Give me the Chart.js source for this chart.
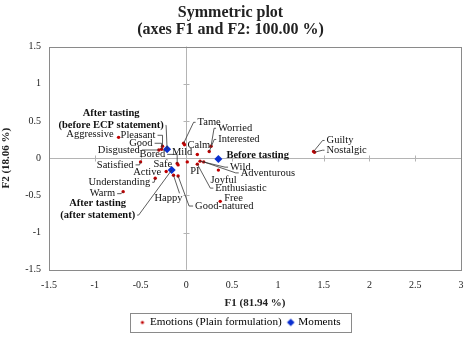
<!DOCTYPE html>
<html>
<head>
<meta charset="utf-8">
<script src="https://cdn.jsdelivr.net/npm/chart.js@4/dist/chart.umd.min.js"></script>
<style>
  html, body { margin: 0; padding: 0; background: #fff; }
  #wrap { width: 474px; height: 338px; }
</style>
</head>
<body>
<div id="wrap"><canvas id="c" width="474" height="338"></canvas></div>
<script>
// Correspondence analysis: emotion terms and tasting moments on F1/F2
const emotionNames = ['Aggressive', 'Pleasant', 'Good', 'Disgusted', 'Tame', 'Calm', 'Worried', 'Interested',
  'Mild', 'Bored', 'Safe', 'Satisfied', 'Active', 'Understanding', 'Warm', 'Happy', 'Good-natured', 'Free',
  'PI', 'Wild', 'Adventurous', 'Joyful', 'Enthusiastic', 'Guilty', 'Nostalgic'];
const emotionF1 = [-0.74, -0.26, -0.27, -0.30, -0.03, -0.02, 0.27, 0.25,
  0.12, -0.10, -0.09, -0.50, -0.22, -0.34, -0.69, -0.14, -0.09, 0.37,
  0.01, 0.15, 0.19, 0.35, 0.12, 1.39, 1.40];
const emotionF2 = [0.28, 0.16, 0.12, 0.11, 0.20, 0.18, 0.16, 0.09,
  0.05, -0.07, -0.09, -0.05, -0.18, -0.27, -0.45, -0.23, -0.24, -0.58,
  -0.05, -0.04, -0.05, -0.16, -0.08, 0.09, 0.08];

const momentNames = ['Before tasting', 'After tasting\n(before ECP statement)', 'After tasting\n(after statement)'];
const momentF1 = [0.35, -0.21, -0.16];
const momentF2 = [-0.01, 0.12, -0.16];

const axisTicks = [-1.5, -1, -0.5, 0, 0.5, 1, 1.5, 2, 2.5, 3];
const f2Ticks = [-1.5, -1, -0.5, 0, 0.5, 1, 1.5];

// Label placement: text offset from the point (px), alignment, optional leader corner offset
const labelPlacement = {
  'Aggressive': { dx: -5, dy: -3, align: 'right' },
  'Pleasant': { dx: -7, dy: -11, align: 'right', lead: [0, -11] },
  'Good': { dx: -9, dy: -6, align: 'right', lead: [0, -6] },
  'Disgusted': { dx: -19, dy: 0, align: 'right', lead: [-3, 0] },
  'Tame': { dx: 14, dy: -21, align: 'left', lead: [10, -21] },
  'Calm': { dx: 3, dy: 0, align: 'left' },
  'Worried': { dx: 7, dy: -18, align: 'left', lead: [3, -18] },
  'Interested': { dx: 9, dy: -12, align: 'left', lead: [5, -12] },
  'Mild': { dx: -5, dy: -2, align: 'right' },
  'Bored': { dx: -12, dy: -9, align: 'right', lead: [0, -9] },
  'Safe': { dx: -6, dy: -1, align: 'right' },
  'Satisfied': { dx: -7, dy: 3, align: 'right', lead: [-1, 3] },
  'Active': { dx: -5, dy: 1, align: 'right' },
  'Understanding': { dx: -5, dy: 4, align: 'right', lead: [-1, 4] },
  'Warm': { dx: -8, dy: 2, align: 'right', lead: [-2, 2] },
  'Happy': { dx: 9, dy: 23, align: 'right', lead: null, leadFrom: 'top' },
  'Good-natured': { dx: 17, dy: 30, align: 'left', lead: [11, 30] },
  'Free': { dx: 4, dy: -3, align: 'left' },
  'PI': { dx: 3, dy: 9, align: 'left' },
  'Wild': { dx: 30, dy: 6, align: 'left', lead: [25, 6] },
  'Adventurous': { dx: 37, dy: 11, align: 'left', lead: [32, 11] },
  'Joyful': { dx: -8, dy: 10, align: 'left' },
  'Enthusiastic': { dx: 18, dy: 24, align: 'left', lead: [13, 24] },
  'Guilty': { dx: 13, dy: -11, align: 'left', lead: [9, -11] },
  'Nostalgic': { dx: 12, dy: -2, align: 'left', lead: [8, -2] },
  'Before tasting': { dx: 8, dy: -4, align: 'left', bold: true },
  'After tasting\n(before ECP statement)': { dx: -56, dy: -36, align: 'center', bold: true, lineGap: 12, leadLine: 1, lead: [-1, -24] },
  'After tasting\n(after statement)': { dx: -74, dy: 33, align: 'center', bold: true, lineGap: 12, leadLine: 1, lead: [-33, 45] }
};

const SERIF = '"Liberation Serif", "DejaVu Serif", serif';
const RED = '#c00000';
const BLUE = '#0a2fd0';
const LEGEND_SHIFT = 10;

function toPoints(xs, ys) { return xs.map((x, i) => ({ x, y: ys[i] })); }

// small marker images for the legend
function markerCanvas(kind) {
  const c = document.createElement('canvas');
  c.width = 10; c.height = 10;
  const g = c.getContext('2d');
  if (kind === 'dot') {
    g.fillStyle = RED; g.beginPath(); g.arc(5, 5, 1.6, 0, Math.PI * 2); g.fill();
  } else {
    g.fillStyle = BLUE; g.beginPath(); g.moveTo(5, 1.2); g.lineTo(8.8, 5); g.lineTo(5, 8.8); g.lineTo(1.2, 5); g.closePath(); g.fill();
  }
  return c;
}

// frame, zero axes with small cross ticks, boxed legend
const framePlugin = {
  id: 'frame',
  afterUpdate(chart) {
    // nudge the legend row a little to the right
    const lg = chart.legend;
    if (lg && lg.legendHitBoxes) {
      lg.left += LEGEND_SHIFT; lg.right += LEGEND_SHIFT;
      lg.legendHitBoxes.forEach(h => { h.left += LEGEND_SHIFT; });
    }
  },
  beforeDatasetsDraw(chart) {
    const { ctx, chartArea: a, scales } = chart;
    const x0 = Math.round(scales.x.getPixelForValue(0)) + 0.5;
    const y0 = Math.round(scales.y.getPixelForValue(0)) + 0.5;
    ctx.save();
    ctx.strokeStyle = '#b4b4b4';
    ctx.lineWidth = 1;
    ctx.beginPath();
    ctx.moveTo(a.left, y0); ctx.lineTo(a.right, y0);
    ctx.moveTo(x0, a.top); ctx.lineTo(x0, a.bottom);
    scales.x.ticks.forEach(t => {
      const px = Math.round(scales.x.getPixelForValue(t.value)) + 0.5;
      ctx.moveTo(px, y0 - 3); ctx.lineTo(px, y0 + 3);
    });
    scales.y.ticks.forEach(t => {
      const py = Math.round(scales.y.getPixelForValue(t.value)) + 0.5;
      ctx.moveTo(x0 - 3, py); ctx.lineTo(x0 + 3, py);
    });
    ctx.stroke();
    ctx.strokeStyle = '#8a8a8a';
    ctx.strokeRect(Math.round(a.left) + 0.5, Math.round(a.top) + 0.5, Math.round(a.right - a.left), Math.round(a.bottom - a.top));
    ctx.restore();
  },
  afterDraw(chart) {
    const lg = chart.legend;
    if (!lg || !lg.legendHitBoxes || !lg.legendHitBoxes.length) return;
    const hb = lg.legendHitBoxes;
    const left = Math.min(...hb.map(h => h.left)) - 10;
    const right = Math.max(...hb.map(h => h.left + h.width)) + 11;
    const top = Math.min(...hb.map(h => h.top)) - 4;
    const bottom = Math.max(...hb.map(h => h.top + h.height)) + 4;
    const { ctx } = chart;
    ctx.save();
    ctx.strokeStyle = '#8a8a8a';
    ctx.lineWidth = 1;
    ctx.strokeRect(Math.round(left) + 0.5, Math.round(top) + 0.5, Math.round(right - left), Math.round(bottom - top));
    ctx.restore();
  }
};

// point labels with leader lines
const labelPlugin = {
  id: 'pointLabels',
  afterDatasetsDraw(chart) {
    const { ctx } = chart;
    ctx.save();
    ctx.textBaseline = 'middle';
    chart.data.datasets.forEach((ds, di) => {
      const meta = chart.getDatasetMeta(di);
      meta.data.forEach((el, i) => {
        const name = ds.names[i];
        const p = labelPlacement[name];
        if (!p) return;
        const lines = name.split('\n');
        const gap = p.lineGap || 11;
        ctx.font = (p.bold ? 'bold ' : '') + '10.5px ' + SERIF;
        ctx.fillStyle = '#111';
        ctx.textAlign = p.align;
        const tx = el.x + p.dx;
        let edge = null;
        lines.forEach((ln, k) => {
          const ty = el.y + p.dy + k * gap;
          ctx.fillText(ln, tx, ty);
          const w = ctx.measureText(ln).width;
          const k0 = p.leadLine !== undefined ? p.leadLine : 0;
          if (k === k0) {
            let left = p.align === 'left' ? tx : (p.align === 'right' ? tx - w : tx - w / 2);
            let right = left + w;
            if (p.leadFrom === 'top') edge = [right - 3, ty - 5];
            else if (p.align === 'left') edge = [left - 2, ty];
            else edge = [right + 2, ty];
          }
        });
        if (p.lead !== undefined) {
          ctx.strokeStyle = '#333';
          ctx.lineWidth = 0.8;
          ctx.beginPath();
          ctx.moveTo(edge[0], edge[1]);
          if (p.lead) ctx.lineTo(el.x + p.lead[0], el.y + p.lead[1]);
          ctx.lineTo(el.x, el.y);
          ctx.stroke();
        }
      });
    });
    ctx.restore();
  }
};

const fmt = v => String(v);

new Chart(document.getElementById('c'), {
  type: 'scatter',
  data: {
    datasets: [
      {
        label: 'Emotions (Plain formulation)',
        names: emotionNames,
        data: toPoints(emotionF1, emotionF2),
        pointStyle: 'circle',
        pointRadius: 1.7,
        backgroundColor: RED,
        borderColor: RED,
        borderWidth: 0
      },
      {
        label: 'Moments',
        names: momentNames,
        data: toPoints(momentF1, momentF2),
        pointStyle: 'rectRot',
        pointRadius: 4,
        backgroundColor: BLUE,
        borderColor: BLUE,
        borderWidth: 0
      }
    ]
  },
  options: {
    responsive: false,
    animation: false,
    devicePixelRatio: 1,
    layout: { padding: { left: 0, right: 13, top: 0, bottom: 0 } },
    plugins: {
      title: {
        display: true,
        text: ['Symmetric plot', '(axes F1 and F2: 100.00 %)'],
        color: '#222',
        font: { family: SERIF, size: 16, weight: 'bold', lineHeight: 1.08 },
        padding: { top: 4, bottom: 8 }
      },
      legend: {
        position: 'bottom',
        labels: {
          color: '#222',
          font: { family: SERIF, size: 11.2 },
          usePointStyle: true,
          boxWidth: 4,
          boxHeight: 8,
          padding: 7,
          generateLabels(chart) {
            return chart.data.datasets.map((ds, i) => ({
              text: ds.label,
              pointStyle: markerCanvas(i === 0 ? 'dot' : 'diamond'),
              fillStyle: ds.backgroundColor,
              strokeStyle: ds.borderColor,
              lineWidth: 0,
              hidden: false,
              datasetIndex: i
            }));
          }
        }
      },
      tooltip: { enabled: false }
    },
    scales: {
      x: {
        type: 'linear',
        min: -1.5, max: 3,
        afterBuildTicks(scale) { scale.ticks = axisTicks.map(v => ({ value: v })); },
        afterFit(scale) { scale.height = 40; },
        grid: { display: false, drawTicks: false },
        border: { display: false },
        ticks: { color: '#222', font: { family: SERIF, size: 10 }, padding: 10, maxRotation: 0, callback: fmt },
        title: { display: true, text: 'F1 (81.94 %)', color: '#222', font: { family: SERIF, size: 11, weight: 'bold' }, padding: { top: 3, bottom: 0 } }
      },
      y: {
        type: 'linear',
        min: -1.5, max: 1.5,
        afterBuildTicks(scale) { scale.ticks = f2Ticks.map(v => ({ value: v })); },
        afterFit(scale) { scale.width = 49; },
        grid: { display: false, drawTicks: false },
        border: { display: false },
        ticks: { color: '#222', font: { family: SERIF, size: 10 }, padding: 8, callback: fmt },
        title: { display: true, text: 'F2 (18.06 %)', color: '#222', font: { family: SERIF, size: 11, weight: 'bold' }, padding: { top: 0, bottom: 4 } }
      }
    }
  },
  plugins: [framePlugin, labelPlugin]
});
</script>
</body>
</html>
